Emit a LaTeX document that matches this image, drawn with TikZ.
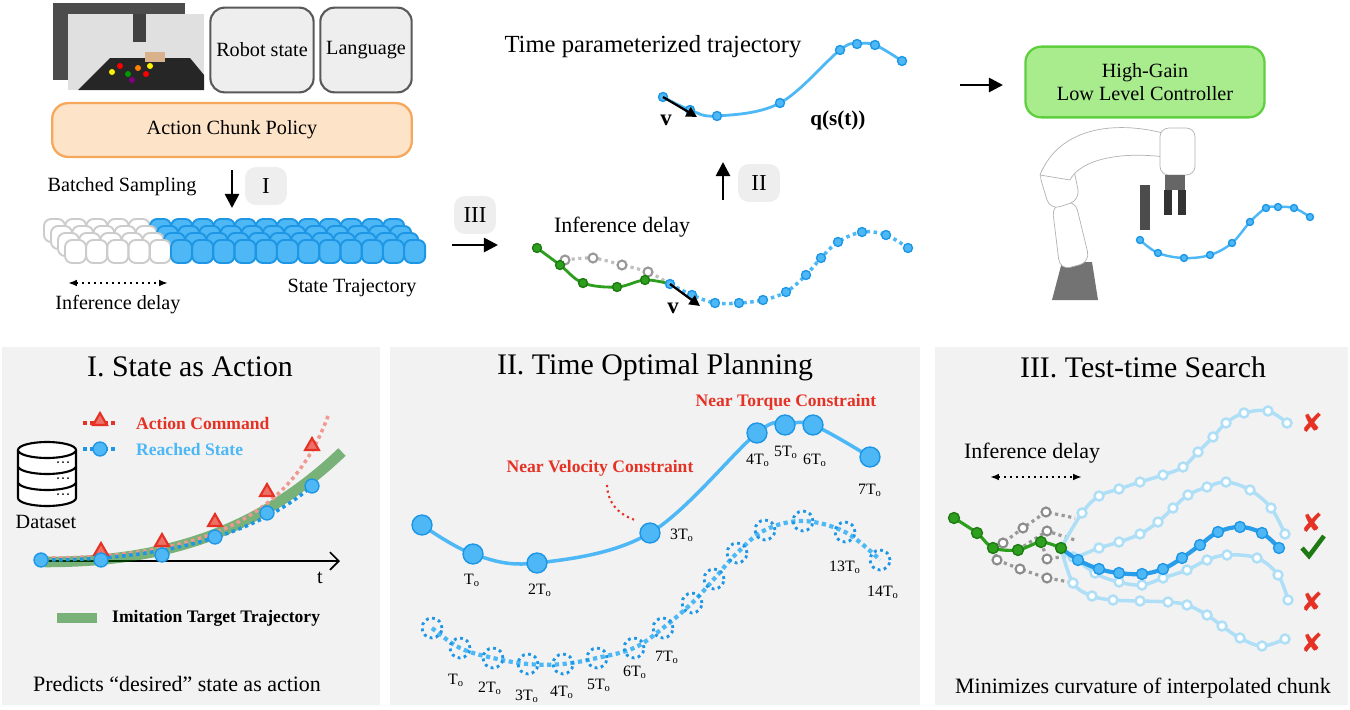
\documentclass[tikz,border=0pt]{standalone}
\usepackage{fontspec}
\setmainfont{Liberation Serif}
\newfontfamily\symfam{DejaVu Sans}
\usetikzlibrary{positioning}
\usetikzlibrary{arrows.meta}
\usetikzlibrary{shapes.geometric}

\definecolor{panelgray}{HTML}{F2F2F2}
\definecolor{boxgray}{HTML}{EEEEEE}
\definecolor{skyblue}{HTML}{4DB8F5}
\definecolor{deepblue}{HTML}{1E96E6}
\definecolor{paleblue}{HTML}{AEDFF7}
\definecolor{leaf}{HTML}{2E9E1E}
\definecolor{darkleaf}{HTML}{1E7A12}
\definecolor{peach}{HTML}{FDE3C8}
\definecolor{peachline}{HTML}{F5A85A}
\definecolor{mint}{HTML}{A8EC8E}
\definecolor{mintline}{HTML}{5FCF3F}
\definecolor{alert}{HTML}{E53225}

\newcommand{\pxu}{pt*0.567}
\tikzset{
  every node/.style={font=\fontsize{11.5}{13.5}\selectfont},
  inbox/.style={draw=black!65,line width=1.2pt,fill=boxgray,rounded corners=8pt},
  stepbox/.style={fill=boxgray,rounded corners=6pt,minimum width=42\pxu,minimum height=38\pxu},
  bigarrow/.style={-{Triangle[length=8pt,width=8pt]},line width=1.5pt},
  title/.style={font=\fontsize{17}{19}\selectfont},
  small/.style={font=\fontsize{9}{10}\selectfont},
  legend/.style={font=\bfseries\fontsize{10}{12}\selectfont},
  dot/.style={circle,fill=skyblue,draw=deepblue,line width=0.8pt,inner sep=0pt,minimum size=#1},
  dot/.default=9\pxu,
  gdot/.style={circle,fill=leaf,draw=darkleaf,line width=0.8pt,inner sep=0pt,minimum size=9\pxu},
  hdot/.style={circle,fill=white,draw=gray,line width=1.2pt,inner sep=0pt,minimum size=9\pxu},
  ldot/.style={circle,fill=white,draw=paleblue,line width=1.4pt,inner sep=0pt,minimum size=9\pxu},
  odot/.style={circle,draw=deepblue,dotted,line width=1.6pt,inner sep=0pt,minimum size=20\pxu},
  block/.style={rounded corners=4pt,line width=1.1pt},
  cross/.style={text=alert,font=\symfam\bfseries\fontsize{15}{15}\selectfont},
}

\begin{document}
\begin{tikzpicture}[x=0.02cm,y=-0.02cm]
\useasboundingbox (0,0) rectangle (1350,710);

% ---------- top: policy ----------
\fill[black!70] (53,3) rectangle (185,80);
\fill[black!12] (68,14) rectangle (204,90);
\fill[black!85] (78,90) -- (110,58) -- (190,58) -- (204,75) -- (204,90) -- cycle;
\fill[black!75] (133,14) rectangle (146,42);
\foreach \cx/\cy/\cc in {112/72/yellow,120/66/red,128/74/green!60!black,138/68/orange,146/74/red,132/80/violet,150/66/yellow}
  \fill[\cc] (\cx,\cy) circle (3);
\fill[brown!60] (145,52) rectangle (165,62);
\node[inbox,minimum width=99\pxu,minimum height=85\pxu] (robot) at (262,50) {Robot state};
\node[inbox,minimum width=87\pxu,minimum height=85\pxu] (lang) at (366,50) {Language};
\node[draw=peachline,fill=peach,line width=1.3pt,rounded corners=9pt,minimum width=361\pxu,minimum height=54\pxu] (policy) at (232,130) {Action Chunk Policy};

\coordinate (sampleTop) at (232,170);
\coordinate (sampleBot) at (232,208);
\draw[bigarrow] (sampleTop) -- (sampleBot);
\node[stepbox] (stepI) at (266,186) {\fontsize{13}{13}\selectfont I};
\node (batched) at (122,187) {Batched Sampling};

\foreach \l in {3,2,1,0}
  \foreach \i in {0,...,16}{
    \pgfmathsetmacro{\bx}{65+21.2*\i-7*\l}
    \pgfmathsetmacro{\by}{240-7*\l}
    \ifnum\i<5
      \draw[block,fill=white,draw=black!20] (\bx,\by) rectangle ++(21,23);
    \else
      \draw[block,fill=skyblue,draw=deepblue] (\bx,\by) rectangle ++(21,23);
    \fi
  }
\coordinate (delayL) at (68,283);
\coordinate (delayR) at (168,283);
\draw[{Latex[length=5pt]}-{Latex[length=5pt]},dotted,line width=1.4pt] (delayL) -- (delayR);
\node (delay1) at (118,305) {Inference delay};
\node (statetraj) at (352,288) {State Trajectory};

% ---------- top: planning ----------
\node[stepbox] (stepIII) at (475,215) {\fontsize{13}{13}\selectfont III};
\coordinate (threeL) at (452,245);
\coordinate (threeR) at (498,245);
\draw[bigarrow] (threeL) -- (threeR);
\coordinate (twoB) at (723,200);
\coordinate (twoT) at (723,162);
\draw[bigarrow] (twoB) -- (twoT);
\node[stepbox] (stepII) at (759,183) {\fontsize{13}{13}\selectfont II};
\node[font=\fontsize{14}{16}\selectfont] (tpt) at (653,47) {Time parameterized trajectory};

\draw[skyblue,line width=1.6pt] plot[smooth,tension=0.6] coordinates
  {(663,97) (690,110) (717,116) (780,103) (840,50) (857,44) (875,45) (902,61)};
\foreach \px/\py [count=\k] in {663/97,690/110,717/116,780/103,840/50,857/44,875/45,902/61}
  \node[dot] (q\k) at (\px,\py) {};
\coordinate (vTip) at (697,117);
\draw[-{Triangle[length=6pt,width=6pt]},line width=1.3pt] (q1.center) -- (vTip);
\node[font=\bfseries\fontsize{13}{13}\selectfont] (vlab) at (666,120) {v};
\node[font=\bfseries\fontsize{12}{13}\selectfont] (qlab) at (838,120) {q(s(t))};

\node[font=\fontsize{12.5}{14}\selectfont] (delay2) at (622,227) {Inference delay};
\draw[black!25,dotted,line width=1.8pt] plot[smooth] coordinates {(565,260) (593,258) (622,265) (648,272) (670,284)};
\foreach \px/\py [count=\k] in {565/260,593/258,622/265,648/272}
  \node[hdot,draw=black!40] (h\k) at (\px,\py) {};
\draw[leaf,line width=1.6pt] plot[smooth,tension=0.6] coordinates {(537,248) (560,265) (583,283) (617,287) (645,280) (670,284)};
\foreach \px/\py [count=\k] in {537/248,560/265,583/283,617/287,645/280}
  \node[gdot] (g\k) at (\px,\py) {};
\draw[skyblue,dotted,line width=2pt] plot[smooth,tension=0.6] coordinates
  {(670,284) (692,295) (715,303) (739,303) (763,300) (786,292) (806,275) (821,258) (838,242) (862,232) (886,235) (908,248)};
\foreach \px/\py [count=\k] in {670/284,692/295,715/303,739/303,763/300,786/292,806/275,821/258,838/242,862/232,886/235,908/248}
  \node[dot] (b\k) at (\px,\py) {};
\coordinate (vTipB) at (700,306);
\draw[-{Triangle[length=6pt,width=6pt]},line width=1.3pt] (b1.center) -- (vTipB);
\node[font=\bfseries\fontsize{13}{13}\selectfont] (vlabB) at (673,308) {v};

% ---------- top: controller ----------
\coordinate (ctrlL) at (960,85);
\coordinate (ctrlR) at (1003,85);
\draw[bigarrow] (ctrlL) -- (ctrlR);
\node[draw=mintline,fill=mint,line width=1.3pt,rounded corners=9pt,minimum width=240\pxu,minimum height=71\pxu,align=center] (ctrl) at (1145,82) {High-Gain\\Low Level Controller};

% robot arm sketch
\fill[black!55] (1052,300) -- (1062,262) -- (1092,262) -- (1098,300) -- cycle;
\fill[white,draw=black!30,rounded corners=6pt] (1060,270) -- (1052,205) -- (1075,200) -- (1090,262) -- cycle;
\fill[white,draw=black!30,rounded corners=6pt] (1050,210) -- (1038,170) -- (1070,150) -- (1080,200) -- cycle;
\fill[white,draw=black!30] (1040,175) .. controls (1060,125) and (1120,120) .. (1170,135) -- (1172,158) .. controls (1120,150) and (1080,160) .. (1070,180) -- cycle;
\fill[white,draw=black!30,rounded corners=5pt] (1160,128) rectangle (1195,175);
\fill[black!70] (1140,185) rectangle (1150,230);
\fill[black!60] (1165,175) rectangle (1185,190);
\fill[black!80] (1164,190) rectangle (1172,215);
\fill[black!80] (1178,190) rectangle (1186,215);
\draw[skyblue,line width=1.4pt] plot[smooth,tension=0.6] coordinates
  {(1140,240) (1158,253) (1184,258) (1210,255) (1232,243) (1250,222) (1266,208) (1278,207) (1294,208) (1310,217)};
\foreach \px/\py [count=\k] in {1140/240,1158/253,1184/258,1210/255,1232/243,1250/222,1266/208,1278/207,1294/208,1310/217}
  \node[dot=7\pxu] (r\k) at (\px,\py) {};

% ---------- panel I ----------
\fill[panelgray] (2,347) rectangle (380,705);
\node[title] (titleI) at (190,367) {I. State as Action};
\foreach \dy in {2,1,0}{
  \draw[fill=white,line width=1.2pt] (18,{450+\dy*16}) -- ++(0,16) arc[start angle=180,end angle=0,x radius=29,y radius=8] -- ++(0,-16);
  \fill (58,{462+\dy*16}) circle (1) (63,{462+\dy*16}) circle (1) (68,{462+\dy*16}) circle (1);
}
\draw[fill=white,line width=1.2pt] (47,450) ellipse[x radius=29,y radius=8];
\node (dataset) at (46,522) {Dataset};
\coordinate (axL) at (40,561);
\coordinate (axR) at (340,561);
\draw[-{Straight Barb[length=5pt]},line width=1pt] (axL) -- (axR);
\node (tlab) at (320,578) {t};
\draw[green!45!black,opacity=0.5,line width=6pt] (45,562) .. controls (150,562) and (250,540) .. (342,452);
\draw[alert!50,dotted,line width=2pt] (45,558) .. controls (200,558) and (290,520) .. (328,416);
\draw[deepblue,dotted,line width=2pt] (45,560) .. controls (150,560) and (250,540) .. (312,486);
\foreach \px/\py [count=\k] in {101/551,162/542,215/522,267/492,312/446}
  \node[isosceles triangle,shape border rotate=90,isosceles triangle apex angle=60,fill=alert!70,draw=alert,line width=1.2pt,inner sep=0pt,minimum size=12\pxu] (a\k) at (\px,\py) {};
\foreach \px/\py [count=\k] in {41/560,101/560,162/555,215/537,267/513,312/486}
  \node[dot=14\pxu] (s\k) at (\px,\py) {};
\coordinate (legAL) at (83,423);
\coordinate (legAR) at (115,423);
\draw[alert,dotted,line width=2pt] (legAL) -- (legAR);
\node[isosceles triangle,shape border rotate=90,isosceles triangle apex angle=60,fill=alert!70,draw=alert,line width=1.2pt,inner sep=0pt,minimum size=12\pxu] (legA) at (100,421) {};
\node[legend,text=alert,anchor=west] (legAtext) at (130,423) {Action Command};
\coordinate (legBL) at (83,449);
\coordinate (legBR) at (115,449);
\draw[deepblue,dotted,line width=2pt] (legBL) -- (legBR);
\node[dot=14\pxu] (legB) at (100,449) {};
\node[legend,text=skyblue,anchor=west] (legBtext) at (130,449) {Reached State};
\coordinate (legCL) at (57,618);
\coordinate (legCR) at (97,618);
\draw[green!45!black,opacity=0.5,line width=6pt] (legCL) -- (legCR);
\node[legend,anchor=west] (legCtext) at (106,618) {Imitation Target Trajectory};
\node[font=\fontsize{12.5}{14}\selectfont] (capI) at (177,684) {Predicts “desired” state as action};

% ---------- panel II ----------
\fill[panelgray] (390,347) rectangle (920,705);
\node[title] (titleII) at (655,367) {II. Time Optimal Planning};
\draw[skyblue,line width=2pt] plot[smooth,tension=0.6] coordinates
  {(422,525) (473,554) (537,563) (650,533) (757,433) (785,425) (813,425) (870,457)};
\foreach \px/\py [count=\k] in {422/525,473/554,537/563,650/533,757/433,785/425,813/425,870/457}
  \node[dot=20\pxu] (p\k) at (\px,\py) {};
\foreach \lab/\px/\py in {T/472/580,2T/540/590,3T/682/535,4T/758/460,5T/786/452,6T/815/460,7T/870/490}
  \node[small] at (\px,\py) {\lab\textsubscript{o}};
\node[legend,text=alert] (torque) at (786,402) {Near Torque Constraint};
\node[legend,text=alert] (velo) at (600,468) {Near Velocity Constraint};
\draw[alert,dotted,line width=1.2pt] (607,485) .. controls (608,505) and (620,515) .. (635,520);
\draw[skyblue,dotted,line width=2.4pt] plot[smooth,tension=0.6] coordinates
  {(432,628) (460,648) (493,658) (528,664) (563,664) (597,658) (634,648) (663,628) (692,603) (714,579) (737,553) (765,530) (803,521) (845,532) (880,560)};
\foreach \px/\py [count=\k] in {432/628,460/648,493/658,528/664,563/664,597/658,634/648,663/628,692/603,714/579,737/553,765/530,803/521,845/532,880/560}
  \node[odot] (o\k) at (\px,\py) {};
\foreach \lab/\px/\py in {T/456/680,2T/490/688,3T/527/696,4T/562/692,5T/599/685,6T/635/672,7T/667/657,13T/845/567,14T/883/592}
  \node[small] at (\px,\py) {\lab\textsubscript{o}};

% ---------- panel III ----------
\fill[panelgray] (935,347) rectangle (1348,705);
\node[title] (titleIII) at (1143,367) {III. Test-time Search};
\node[font=\fontsize{12.5}{14}\selectfont] (delay3) at (1032,453) {Inference delay};
\coordinate (sdL) at (990,477);
\coordinate (sdR) at (1082,477);
\draw[{Latex[length=5pt]}-{Latex[length=5pt]},dotted,line width=1.4pt] (sdL) -- (sdR);
% gray predicted prefixes
\draw[black!40,dotted,line width=1.8pt] (993,548) -- (1003,543) -- (1023,528) -- (1046,512) -- (1075,518);
\draw[black!40,dotted,line width=1.8pt] (1018,550) -- (1047,531) -- (1075,540);
\draw[black!40,dotted,line width=1.8pt] (993,548) -- (997,560) -- (1020,569) -- (1047,578) -- (1075,583);
\draw[black!40,dotted,line width=1.8pt] (1041,542) -- (1047,559) -- (1075,555);
\foreach \px/\py [count=\k] in {1003/543,1023/528,1046/512,1047/531,997/560,1020/569,1047/578,1047/559}
  \node[hdot,draw=black!45] (pre\k) at (\px,\py) {};
% candidate chunks
\foreach \pts in {
  {(1061,548) (1082,513) (1099,496) (1119,489) (1140,482) (1163,475) (1183,467) (1198,452) (1213,437) (1226,423) (1244,413) (1268,411) (1287,423)},
  {(1061,548) (1073,557) (1099,548) (1119,542) (1140,534) (1158,522) (1173,508) (1188,495) (1207,487) (1226,482) (1250,490) (1271,508) (1285,534)},
  {(1061,548) (1095,573) (1119,582) (1142,585) (1163,578) (1187,570) (1207,560) (1227,555) (1257,558) (1278,575) (1288,600)},
  {(1061,548) (1073,583) (1092,596) (1113,600) (1140,601) (1168,602) (1187,605) (1207,615) (1222,626) (1240,638) (1262,646) (1285,639)}}
  \draw[paleblue,line width=2pt] plot[smooth,tension=0.6] coordinates \pts;
\foreach \px/\py in {1082/513,1099/496,1119/489,1140/482,1163/475,1183/467,1198/452,1213/437,1226/423,1244/413,1268/411,1287/423,
  1073/557,1099/548,1119/542,1140/534,1158/522,1173/508,1188/495,1207/487,1226/482,1250/490,1271/508,1285/534,
  1095/573,1119/582,1142/585,1163/578,1187/570,1207/560,1227/555,1257/558,1278/575,1288/600,
  1073/583,1092/596,1113/600,1140/601,1168/602,1187/605,1207/615,1222/626,1240/638,1262/646,1285/639}
  \node[ldot] at (\px,\py) {};
\draw[leaf,line width=1.8pt] plot[smooth,tension=0.5] coordinates {(954,518) (977,533) (993,548) (1018,550) (1041,542) (1061,548)};
\draw[deepblue!80!skyblue,line width=2.4pt] plot[smooth,tension=0.6] coordinates
  {(1061,548) (1078,560) (1099,569) (1119,573) (1142,574) (1163,569) (1182,558) (1200,545) (1218,532) (1240,527) (1262,533) (1279,548)};
\foreach \px/\py [count=\k] in {954/518,977/533,993/548,1018/550,1041/542,1061/548}
  \node[gdot,minimum size=11\pxu] (gs\k) at (\px,\py) {};
\foreach \px/\py [count=\k] in {1078/560,1099/569,1119/573,1142/574,1163/569,1182/558,1200/545,1218/532,1240/527,1262/533,1279/548}
  \node[dot=11\pxu] (best\k) at (\px,\py) {};
\node[cross] (x1) at (1312,423) {\symbol{"2718}};
\node[cross] (x2) at (1312,523) {\symbol{"2718}};
\node[cross] (x3) at (1312,602) {\symbol{"2718}};
\node[cross] (x4) at (1312,643) {\symbol{"2718}};
\coordinate (chkA) at (1302,548);
\coordinate (chkB) at (1309,556);
\coordinate (chkC) at (1324,536);
\draw[darkleaf,line width=2.6pt] (chkA) -- (chkB) -- (chkC);
\node[font=\fontsize{12.5}{14}\selectfont] (capIII) at (1143,688) {Minimizes curvature of interpolated chunk};
\end{tikzpicture}
\end{document}
